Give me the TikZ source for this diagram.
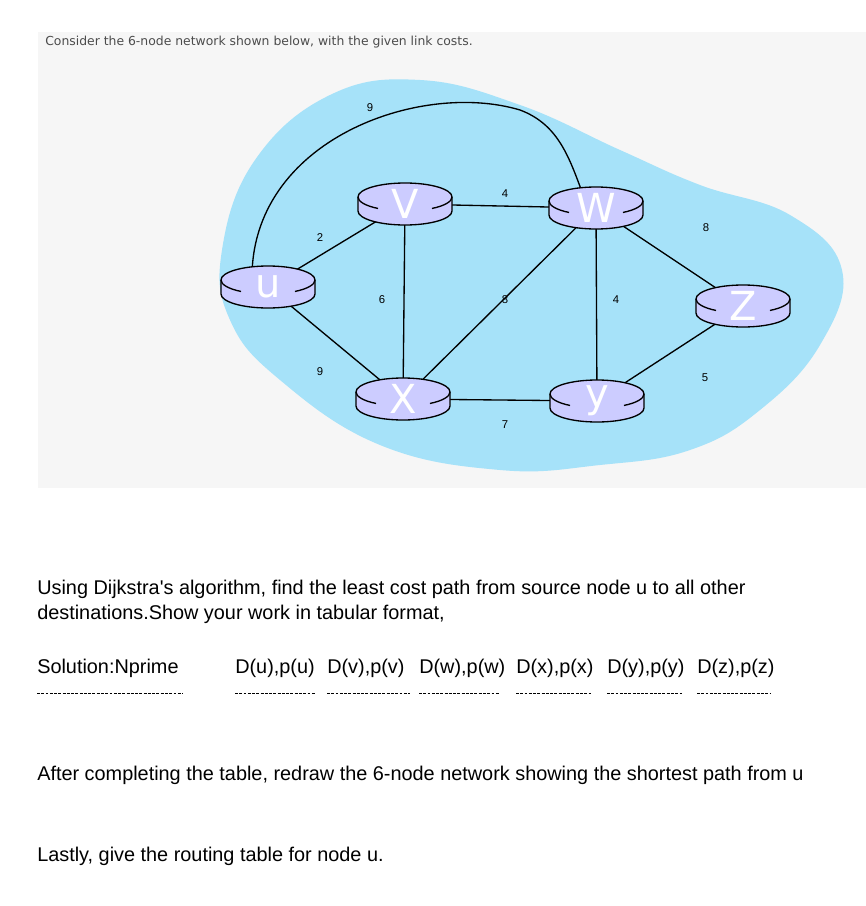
\documentclass[tikz,border=0pt]{standalone}
\usepackage{fontspec}
\setmainfont{Liberation Sans}
\newfontfamily\capfont{DejaVu Sans}
\begin{document}
\begin{tikzpicture}[x=0.75pt,y=-0.75pt,
  lbl/.style={font=\fontsize{8.5}{9}\selectfont},
  link/.style={line width=1pt,black},
  txt/.style={anchor=west,inner sep=0,font=\fontsize{14.9}{16}\selectfont},
  rname/.style={text=white,font=\fontsize{30}{30}\selectfont\capfont}]
\useasboundingbox (0,0) rectangle (866,906);
\fill[white] (0,0) rectangle (866,906);
\fill[gray!7] (38,32) rectangle (866,488);
\node[anchor=west,inner sep=0,text=black!70,font=\fontsize{9.3}{10}\selectfont\capfont] (cap) at (45,42) {Consider the 6-node network shown below, with the given link costs.};
% blob
\fill[cyan!35!white,draw=none] plot[smooth cycle,tension=0.7] coordinates
 {(222,250) (255,160) (330,95) (420,80) (520,105) (620,150) (700,185) (790,215) (842,270) (820,345) (760,410) (690,450) (600,465) (500,470) (380,445) (280,380) (230,320)};
% node coordinates
\coordinate (u) at (268,287);
\coordinate (v) at (405,204);
\coordinate (w) at (596,208);
\coordinate (x) at (403,399);
\coordinate (y) at (597,401);
\coordinate (z) at (743,306);
\draw[link] (u)--(v);
\draw[link] (u)--(x);
\draw[link] (v)--(x);
\draw[link] (v)--(w);
\draw[link] (w)--(x);
\draw[link] (w)--(y);
\draw[link] (x)--(y);
\draw[link] (w)--(z);
\draw[link] (y)--(z);
\draw[link] (252,280) .. controls (250,140) and (420,80) .. (520,110) .. controls (560,125) and (570,160) .. (585,200);
\node[lbl] (c1) at (320,238) {2};
\node[lbl] (c2) at (320,372) {9};
\node[lbl] (c3) at (382,300) {6};
\node[lbl] (c4) at (505,194) {4};
\node[lbl] (c5) at (505,300) {8};
\node[lbl] (c6) at (616,300) {4};
\node[lbl] (c7) at (505,425) {7};
\node[lbl] (c8) at (706,228) {8};
\node[lbl] (c9) at (705,378) {5};
\node[lbl] (c10) at (370,108) {9};
% routers
\foreach \n/\l in {u/u,v/V,w/W,x/X,y/y,z/Z}{
  \begin{scope}[shift={(\n)}]
  \fill[blue!20!white,draw=black,line width=1pt] (-47,-7) -- (-47,7) arc[start angle=180,end angle=0,x radius=47,y radius=14] -- (47,-7) arc[start angle=0,end angle=-180,x radius=47,y radius=14] -- cycle;
  \draw[line width=1pt] (-47,-7) arc[start angle=180,end angle=125,x radius=47,y radius=14];
  \draw[line width=1pt] (47,-7) arc[start angle=0,end angle=55,x radius=47,y radius=14];
  \node[rname] (r\n) at (0,0) {\l};
  \end{scope}
}
\node[txt] (t1) at (37,589) {Using Dijkstra\textquotesingle s algorithm, find the least cost path from source node u to all other};
\node[txt] (t2) at (37,614) {destinations.Show your work in tabular format,};
\node[txt] (t3) at (37,668) {Solution:Nprime};
\node[txt] (h1) at (235,668) {D(u),p(u)};
\node[txt] (h2) at (327,668) {D(v),p(v)};
\node[txt] (h3) at (419,668) {D(w),p(w)};
\node[txt] (h4) at (516,668) {D(x),p(x)};
\node[txt] (h5) at (607,668) {D(y),p(y)};
\node[txt] (h6) at (697,668) {D(z),p(z)};
\foreach \a/\b in {37/183,235/315,327/410,419/499,516/591,607/682,697/770}{
  \draw[line width=0.7pt,dash pattern=on 2.2pt off 1pt] (\a,693) -- (\b,693);
}
\node[txt] (t4) at (37,775) {After completing the table, redraw the 6-node network showing the shortest path from u};
\node[txt] (t5) at (37,856) {Lastly, give the routing table for node u.};
\end{tikzpicture}
\end{document}
